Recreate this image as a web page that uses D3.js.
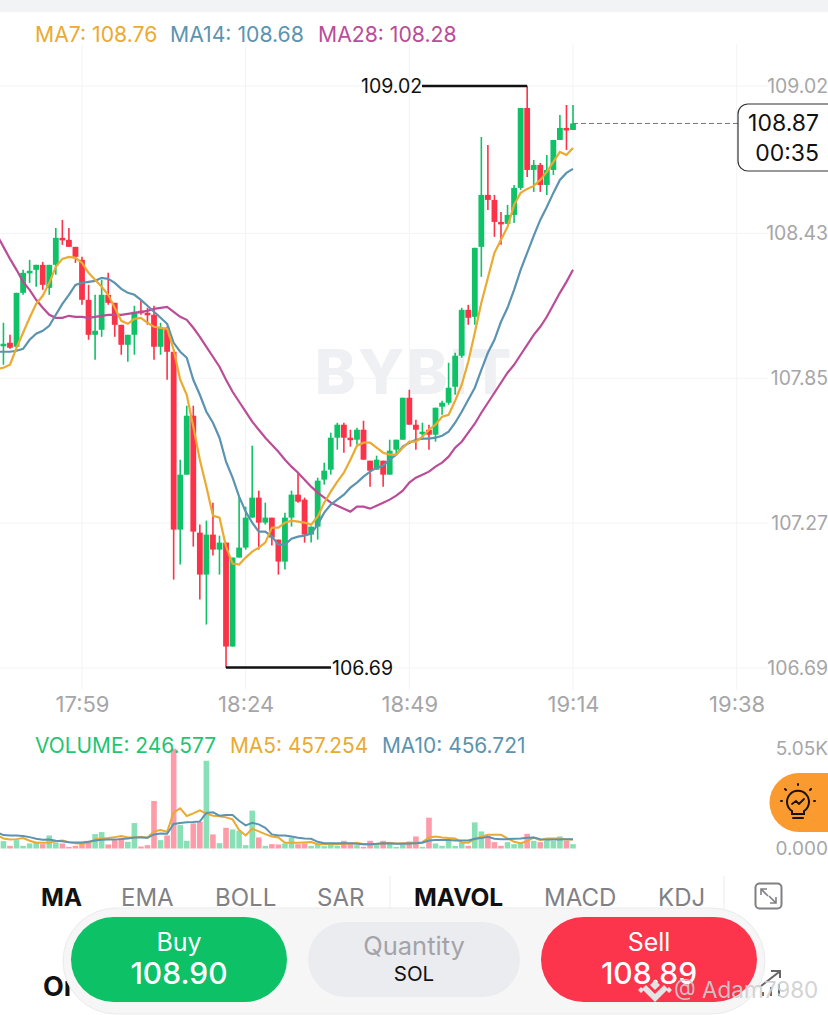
<!DOCTYPE html>
<html>
<head>
<meta charset="utf-8">
<script src="https://cdn.jsdelivr.net/npm/d3@7"></script>
<style>
    html, body { margin: 0; padding: 0; background: #fff; }
    svg { display: block; }
    text { font-family: Inter, "Noto Sans", sans-serif; }
</style>
</head>
<body>
<div class="viz"></div>
<script>
const w = 828;
const h = 1015;

// candles, one a minute, first one 17:47
const opens = [107.984,107.992,107.976,108.192,108.276,108.284,108.304,108.212,108.304,108.412,108.404,108.376,108.324,108.164,108.024,108.044,108.184,108.152,108.064,107.984,108.024,108.120,108.112,108.104,107.976,108.052,107.956,107.244,107.464,107.700,107.232,107.064,107.224,107.164,107.192,106.776,107.132,107.172,107.292,107.372,107.272,107.292,107.204,107.116,107.292,107.384,107.364,107.224,107.256,107.444,107.484,107.612,107.664,107.612,107.604,107.644,107.520,107.484,107.520,107.464,107.564,107.604,107.772,107.664,107.628,107.644,107.624,107.736,107.752,107.816,107.940,108.124,108.096,108.376,108.584,108.564,108.476,108.468,108.504,108.612,108.932,108.684,108.704,108.624,108.684,108.804,108.852,108.844];
const highs = [108.072,108.024,108.192,108.284,108.324,108.304,108.316,108.304,108.452,108.484,108.452,108.376,108.336,108.224,108.184,108.244,108.272,108.152,108.064,108.024,108.140,108.164,108.132,108.140,108.072,108.056,107.956,107.524,107.740,107.740,107.264,107.280,107.352,107.220,107.192,107.132,107.376,107.336,107.580,107.400,107.352,107.292,107.204,107.312,107.400,107.472,107.372,107.256,107.452,107.512,107.632,107.672,107.672,107.644,107.652,107.680,107.520,107.540,107.520,107.604,107.604,107.772,107.804,107.684,107.672,107.664,107.732,107.760,107.912,107.952,108.132,108.144,108.372,108.816,108.784,108.584,108.516,108.544,108.624,108.932,109.020,108.724,108.712,108.744,108.804,108.904,108.944,108.944];
const lows = [107.904,107.968,107.976,108.184,108.232,108.216,108.204,108.184,108.264,108.384,108.376,108.312,108.144,108.004,107.924,108.016,108.144,108.016,107.944,107.916,107.944,108.104,108.064,107.924,107.944,107.844,107.044,107.104,107.464,107.176,106.964,106.864,107.140,107.064,106.690,106.776,107.132,107.164,107.292,107.164,107.264,107.180,107.064,107.084,107.256,107.352,107.192,107.192,107.204,107.424,107.464,107.564,107.552,107.576,107.584,107.524,107.416,107.484,107.416,107.464,107.544,107.604,107.664,107.564,107.604,107.564,107.596,107.704,107.744,107.784,107.932,108.064,108.064,108.256,108.524,108.416,108.384,108.468,108.472,108.604,108.656,108.596,108.596,108.584,108.664,108.804,108.764,108.844];
const closes = [107.988,107.972,108.192,108.272,108.280,108.304,108.224,108.304,108.412,108.404,108.376,108.336,108.164,108.024,108.040,108.184,108.152,108.064,107.984,108.024,108.116,108.112,108.104,107.976,108.052,107.956,107.244,107.464,107.700,107.236,107.064,107.224,107.164,107.192,106.776,107.132,107.172,107.292,107.372,107.272,107.292,107.212,107.116,107.292,107.384,107.356,107.224,107.256,107.440,107.480,107.612,107.664,107.612,107.604,107.644,107.524,107.480,107.524,107.464,107.560,107.604,107.772,107.664,107.644,107.636,107.624,107.732,107.752,107.812,107.940,108.124,108.092,108.372,108.584,108.564,108.476,108.468,108.504,108.612,108.932,108.684,108.704,108.624,108.684,108.804,108.852,108.844,108.870];
const volumes = [370,135,421,135,252,337,219,656,303,252,84,135,219,387,724,825,202,421,539,337,1279,101,168,2390,421,656,5015,1178,387,1262,1346,4409,707,269,1043,959,892,168,1902,555,135,219,202,252,555,219,252,135,219,118,168,135,387,252,168,84,387,168,387,252,84,202,353,606,84,1548,252,135,387,135,286,135,1313,858,623,320,135,320,219,303,741,387,320,387,387,606,387,219];

// averages, these start one minute before the candles, just off the left edge
const ma7 = [107.888,107.892,107.904,107.972,108.032,108.092,108.148,108.180,108.232,108.296,108.328,108.336,108.332,108.312,108.272,108.244,108.216,108.184,108.132,108.080,108.068,108.088,108.092,108.072,108.056,108.052,108.048,107.964,107.844,107.784,107.656,107.524,107.416,107.300,107.292,107.176,107.108,107.104,107.132,107.156,107.172,107.192,107.252,107.252,107.272,107.280,107.276,107.272,107.264,107.296,107.352,107.396,107.436,107.472,107.524,107.580,107.592,107.592,107.572,107.552,107.544,107.544,107.572,107.596,107.596,107.616,107.644,107.664,107.696,107.704,107.760,107.824,107.916,108.032,108.152,108.252,108.352,108.404,108.456,108.544,108.592,108.608,108.620,108.644,108.676,108.716,108.756,108.744,108.772];
const ma14 = [107.956,107.956,107.956,107.960,107.968,108.004,108.028,108.040,108.060,108.104,108.148,108.184,108.224,108.232,108.236,108.240,108.252,108.248,108.232,108.208,108.192,108.184,108.164,108.140,108.116,108.092,108.068,107.992,107.956,107.932,107.844,107.784,107.716,107.672,107.612,107.516,107.452,107.376,107.316,107.272,107.236,107.236,107.216,107.184,107.184,107.208,107.216,107.220,107.228,107.264,107.312,107.344,107.364,107.384,107.412,107.432,107.456,107.476,107.492,107.500,107.524,107.544,107.576,107.592,107.604,107.608,107.608,107.612,107.620,107.636,107.672,107.716,107.764,107.812,107.884,107.952,108.004,108.076,108.132,108.204,108.284,108.352,108.420,108.484,108.536,108.592,108.644,108.672,108.688];
const ma28 = [108.424,108.376,108.328,108.284,108.236,108.204,108.164,108.132,108.104,108.092,108.092,108.100,108.096,108.096,108.092,108.096,108.100,108.104,108.104,108.104,108.108,108.112,108.116,108.120,108.128,108.132,108.136,108.116,108.096,108.084,108.052,108.016,107.976,107.936,107.896,107.844,107.796,107.756,107.716,107.676,107.644,107.612,107.584,107.556,107.524,107.496,107.472,107.444,107.416,107.392,107.372,107.352,107.340,107.328,107.316,107.336,107.336,107.328,107.340,107.352,107.364,107.380,107.400,107.432,107.452,107.464,107.476,107.496,107.512,107.536,107.572,107.596,107.632,107.668,107.712,107.752,107.792,107.832,107.872,107.904,107.944,107.984,108.024,108.056,108.096,108.144,108.192,108.236,108.284];
const volMa5 = [673,505,454,471,522,387,286,286,286,370,404,320,269,236,286,454,505,522,572,623,555,555,589,539,858,926,842,1818,2020,1633,1767,1919,1750,1649,1616,1565,1464,926,656,993,858,724,606,555,286,286,286,303,320,219,219,219,219,236,252,286,219,219,219,269,286,252,269,269,303,320,555,606,555,522,505,303,286,471,589,690,690,690,505,337,269,370,555,421,505,505,505,454,454];
const volMa10 = [808,673,656,656,623,572,488,438,454,387,370,320,303,303,337,404,438,454,454,471,505,555,555,539,707,757,741,1229,1279,1313,1330,1363,1784,1818,1649,1683,1683,1397,1161,1296,1212,1043,707,656,656,606,539,505,488,337,269,269,269,269,269,236,219,219,236,269,252,236,236,252,269,286,404,421,421,421,404,404,404,488,522,589,488,471,471,488,505,539,555,471,438,454,454,471,471];

const priceTicks = [109.02, 108.43, 107.85, 107.27, 106.69];
const timeTicks = [13, 38, 63, 88, 113];
const timeLabels = ["17:59", "18:24", "18:49", "19:14", "19:38"];
const volumeTicks = [5050, 0];
const volumeLabels = ["5.05K", "0.000"];

const up = "#0fc167";
const down = "#fc3248";
const upPale = "#8ae0b6";
const downPale = "#fd9ba8";
const gold = "#ebaa30";
const blue = "#5b94b0";
const plum = "#bb4c98";
const tickGrey = "#a6a6a8";
const tabGrey = "#808086";

const svg = d3.select(".viz")
    .append("svg")
    .attr("width", w)
    .attr("height", h);

const x = d3.scaleLinear().domain([13, 88]).range([82, 573]);
const y = d3.scaleLinear().domain([106.69, 109.02]).range([668, 86]);
const yVol = d3.scaleLinear().domain([0, 5050]).range([848.5, 748]);

svg.append("rect").attr("width", w).attr("height", 12).attr("fill", "#f2f3f5");

// grid
svg.selectAll(".hgrid")
    .data(priceTicks)
    .enter()
    .append("line")
    .attr("x1", 0)
    .attr("x2", 768)
    .attr("y1", d => y(d))
    .attr("y2", d => y(d))
    .style("stroke", "#f2f3f5");

svg.selectAll(".vgrid")
    .data(timeTicks)
    .enter()
    .append("line")
    .attr("x1", d => x(d))
    .attr("x2", d => x(d))
    .attr("y1", 44)
    .attr("y2", 690)
    .style("stroke", "#f2f3f5");

// watermark sits under the candles
svg.append("text")
    .attr("x", 414)
    .attr("y", 394)
    .attr("text-anchor", "middle")
    .style("font-size", "62px")
    .style("font-weight", 800)
    .style("letter-spacing", "2px")
    .style("fill", "#eff0f3")
    .text("BYBIT");

// candles
const candles = closes.map(function (c, i) {
    return { i: i + 1, open: opens[i], high: highs[i], low: lows[i], close: c, volume: volumes[i] };
});

svg.selectAll(".wick")
    .data(candles)
    .enter()
    .append("line")
    .attr("x1", d => x(d.i))
    .attr("x2", d => x(d.i))
    .attr("y1", d => y(d.high))
    .attr("y2", d => y(d.low))
    .style("stroke", d => d.close >= d.open ? up : down)
    .style("stroke-width", 1.6);

svg.selectAll(".body")
    .data(candles)
    .enter()
    .append("rect")
    .attr("x", d => x(d.i) - 2.9)
    .attr("width", 5.8)
    .attr("y", d => y(Math.max(d.open, d.close)))
    .attr("height", d => Math.max(2.5, Math.abs(y(d.open) - y(d.close))))
    .style("fill", d => d.close >= d.open ? up : down);

const priceLine = d3.line()
    .x((d, i) => x(i))
    .y(d => y(d));

[[ma28, plum], [ma14, blue], [ma7, gold]].forEach(function (s) {
    svg.append("path")
        .attr("d", priceLine(s[0]))
        .style("fill", "none")
        .style("stroke", s[1])
        .style("stroke-width", 2.2);
});

// axes
const priceAxis = svg.append("g")
    .attr("transform", "translate(828,0)")
    .call(d3.axisLeft(y).tickValues(priceTicks).tickFormat(d3.format(".2f")).tickSize(0).tickPadding(0));

const timeAxis = svg.append("g")
    .attr("transform", "translate(0,696)")
    .call(d3.axisBottom(x).tickValues(timeTicks).tickFormat((d, i) => timeLabels[i]).tickSize(0).tickPadding(0));

const volumeAxis = svg.append("g")
    .attr("transform", "translate(828,0)")
    .call(d3.axisLeft(yVol).tickValues(volumeTicks).tickFormat((d, i) => volumeLabels[i]).tickSize(0).tickPadding(0));

[[priceAxis, "19.4px"], [timeAxis, "22px"], [volumeAxis, "19px"]].forEach(function (a) {
    a[0].select(".domain").remove();
    a[0].selectAll("text")
        .style("font-family", "Inter, sans-serif")
        .style("font-size", a[1])
        .style("fill", tickGrey);
});

// high and low marks
svg.append("line").attr("x1", 422).attr("x2", x(81)).attr("y1", y(109.02)).attr("y2", y(109.02))
    .style("stroke", "#111").style("stroke-width", 2.4);
svg.append("text").attr("x", 361).attr("y", y(109.02) + 7).style("font-size", "19.5px").style("fill", "#111").text("109.02");
svg.append("line").attr("x1", x(35)).attr("x2", 331).attr("y1", y(106.69) - 0.5).attr("y2", y(106.69) - 0.5)
    .style("stroke", "#111").style("stroke-width", 2.4);
svg.append("text").attr("x", 332).attr("y", y(106.69) + 7).style("font-size", "19.5px").style("fill", "#111").text("106.69");

// last price box
svg.append("line").attr("x1", x(88)).attr("x2", 738).attr("y1", y(108.87)).attr("y2", y(108.87))
    .style("stroke", "#777").style("stroke-dasharray", "5,3");
svg.append("rect").attr("x", 738).attr("y", 104).attr("width", 110).attr("height", 67).attr("rx", 10)
    .style("fill", "#fff").style("stroke", "#333").style("stroke-width", 1.2);
svg.append("text").attr("x", 819).attr("y", 131).attr("text-anchor", "end").style("font-size", "23px").style("fill", "#111").text("108.87");
svg.append("text").attr("x", 819).attr("y", 161).attr("text-anchor", "end").style("font-size", "23px").style("fill", "#111").text("00:35");

// legends
function legend(row, py, size) {
    row.forEach(function (r) {
        svg.append("text").attr("x", r[0]).attr("y", py).style("font-size", size).style("fill", r[2]).text(r[1]);
    });
}
legend([[35, "MA7: 108.76", gold], [170, "MA14: 108.68", blue], [318, "MA28: 108.28", plum]], 42, "21.2px");

// volume panel
svg.selectAll(".vol")
    .data(candles)
    .enter()
    .append("rect")
    .attr("x", d => x(d.i) - 2.8)
    .attr("width", 5.6)
    .attr("y", d => yVol(d.volume))
    .attr("height", d => yVol(0) - yVol(d.volume))
    .style("fill", d => d.close >= d.open ? upPale : downPale);

const volumeLine = d3.line()
    .x((d, i) => x(i))
    .y(d => yVol(d));

[[volMa5, gold], [volMa10, blue]].forEach(function (s) {
    svg.append("path")
        .attr("d", volumeLine(s[0]))
        .style("fill", "none")
        .style("stroke", s[1])
        .style("stroke-width", 2);
});

legend([[35, "VOLUME: 246.577", "#1fc571"], [230, "MA5: 457.254", gold], [382, "MA10: 456.721", blue]], 753, "20.9px");

// insight button
svg.append("path")
    .attr("d", "M828,773H799a29.5,29.5 0 0 0 0,59H828Z")
    .style("fill", "#fb9a2e");
const bulb = svg.append("g").attr("transform", "translate(798,802)")
    .style("fill", "none").style("stroke", "#1a1208").style("stroke-width", 2).style("stroke-linecap", "round");
bulb.append("path").attr("d", "M-6,9a11,11 0 1 1 12,0v3h-12Z");
bulb.append("path").attr("d", "M-5,16h10");
bulb.append("path").attr("d", "M-6,2l4,-3l3,3l5,-5").style("stroke-width", 1.8);
bulb.append("path").attr("d", "M0,-17v-1M-12,-12l-1,-1M12,-12l1,-1M-16,-1h-1M16,-1h1");

// indicator tabs
const tabs = [[41, "MA", true], [121, "EMA", false], [215, "BOLL", false], [317, "SAR", false],
    [414, "MAVOL", true], [544, "MACD", false], [658, "KDJ", false]];
tabs.forEach(function (t) {
    svg.append("text")
        .attr("x", t[0])
        .attr("y", 906)
        .style("font-size", t[2] ? "24.5px" : "24px")
        .style("font-weight", t[2] ? 700 : 400)
        .style("fill", t[2] ? "#111" : tabGrey)
        .text(t[1]);
});
[390, 724].forEach(function (px) {
    svg.append("line").attr("x1", px).attr("x2", px).attr("y1", 876).attr("y2", 910).style("stroke", "#ececee");
});
const expand = svg.append("g").style("fill", "none").style("stroke", "#808086").style("stroke-width", 2);
expand.append("rect").attr("x", 755.5).attr("y", 883.5).attr("width", 26).attr("height", 25).attr("rx", 4);
expand.append("path").attr("d", "M761,895v-6h6M761,889l7,7M776,897v6h-6M776,903l-7,-7").style("stroke-width", 1.6);

svg.append("text").attr("x", 43).attr("y", 996).style("font-size", "27px").style("font-weight", 700).style("fill", "#111").text("Or");
svg.append("path").attr("d", "M761,986l18,-14M771,971h9v7M763,996l0,-4M771,996l0,-9M779,996l0,-12")
    .style("fill", "none").style("stroke", "#666").style("stroke-width", 2);

// trade bar
svg.append("rect").attr("x", 63).attr("y", 908).attr("width", 702).attr("height", 106).attr("rx", 53)
    .style("fill", "#f6f6f7").style("stroke", "#ebebed");
svg.append("rect").attr("x", 71).attr("y", 917).attr("width", 216).attr("height", 85).attr("rx", 42.5).style("fill", "#0cc166");
svg.append("rect").attr("x", 308).attr("y", 922).attr("width", 212).attr("height", 75).attr("rx", 37.5).style("fill", "#ebecf0");
svg.append("rect").attr("x", 541).attr("y", 917).attr("width", 216).attr("height", 85).attr("rx", 42.5).style("fill", "#fc344c");

function centred(px, py, size, weight, colour, label) {
    svg.append("text")
        .attr("x", px)
        .attr("y", py)
        .attr("text-anchor", "middle")
        .style("font-size", size)
        .style("font-weight", weight)
        .style("fill", colour)
        .text(label);
}
centred(179, 951, "25px", 400, "#fff", "Buy");
centred(179, 984, "30px", 500, "#fff", "108.90");
centred(414, 955, "25.5px", 400, "#a3a3a8", "Quantity");
centred(414, 981, "20.5px", 400, "#111", "SOL");
centred(649, 951, "25px", 400, "#fff", "Sell");
centred(649, 984, "30px", 500, "#fff", "108.89");

// repost stamp over the corner
const stamp = svg.append("g").attr("transform", "translate(655,990)").style("fill", "#e4e4e4");
stamp.append("path").attr("d", "M0,-10l5,5l-5,5l-5,-5ZM0,4l4,-4l5,-5l4,4l-13,13l-13,-13l4,-4l5,5Z");
stamp.append("path").attr("d", "M-14,-3l3,3l-3,3l-3,-3ZM14,-3l3,3l-3,3l-3,-3Z");
svg.append("text").attr("x", 674).attr("y", 998).style("font-size", "22.5px").style("fill", "#cfcfcf").style("opacity", 0.9).text("@ Adam7980");
</script>
</body>
</html>
